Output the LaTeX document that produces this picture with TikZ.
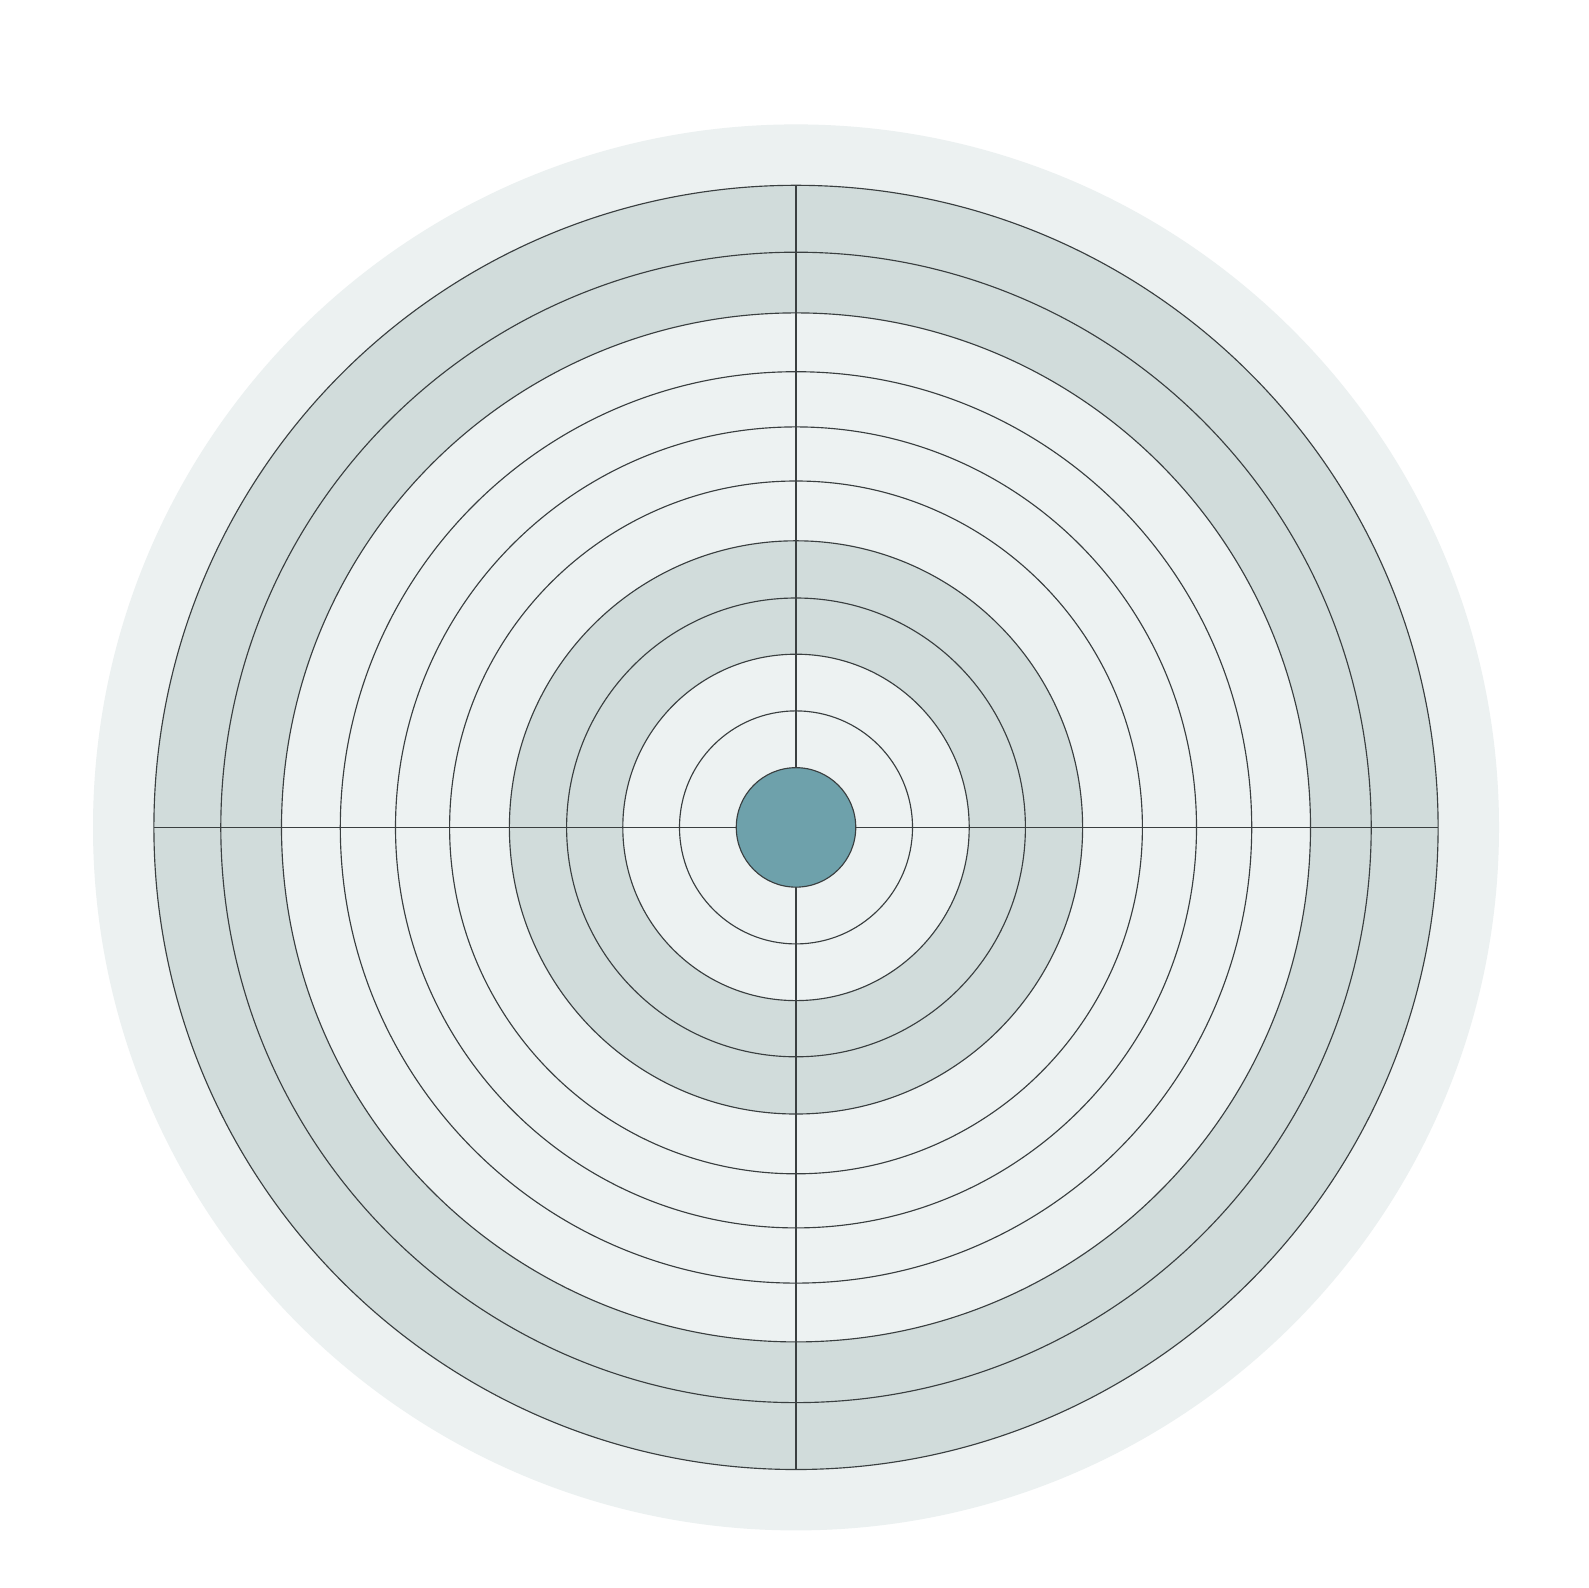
\documentclass[tikz,border=0pt]{standalone}
\definecolor{halo}{HTML}{ECF1F1}
\definecolor{lite}{HTML}{EDF2F2}
\definecolor{dark}{HTML}{D1DCDB}
\definecolor{teal}{HTML}{6EA1AB}
\definecolor{ink}{HTML}{3A3F40}
\begin{document}
\begin{tikzpicture}[x=0.02cm,y=-0.02cm,
  ring/.style={draw=ink,line width=0.65pt},
  axis/.style={draw=ink,line width=0.65pt}]
\useasboundingbox[fill=white] (0,0) rectangle (1588,1588);
\coordinate (c) at (796,827.4);
\fill[halo] (c) circle[radius=703];
% filled disks from outside in
\path[ring,fill=dark] (c) circle[radius=642.1];
\path[ring,fill=dark] (c) circle[radius=575.2];
\path[ring,fill=lite] (c) circle[radius=514.5];
\path[ring,fill=lite] (c) circle[radius=455.7];
\path[ring,fill=lite] (c) circle[radius=400.5];
\path[ring,fill=lite] (c) circle[radius=346.4];
\path[ring,fill=dark] (c) circle[radius=286.6];
\path[ring,fill=dark] (c) circle[radius=229.4];
\path[ring,fill=lite] (c) circle[radius=173.2];
\path[ring,fill=lite] (c) circle[radius=116.5];
\coordinate (l) at (153.9,827.4);
\coordinate (r) at (1438.1,827.4);
\coordinate (t) at (796,185.3);
\coordinate (b) at (796,1469.5);
\draw[axis] (l) -- (r);
\draw[axis] (t) -- (b);
\node[circle,draw=ink,line width=0.65pt,fill=teal,minimum size=2.39cm,inner sep=0pt] (hub) at (c) {};
\end{tikzpicture}
\end{document}
